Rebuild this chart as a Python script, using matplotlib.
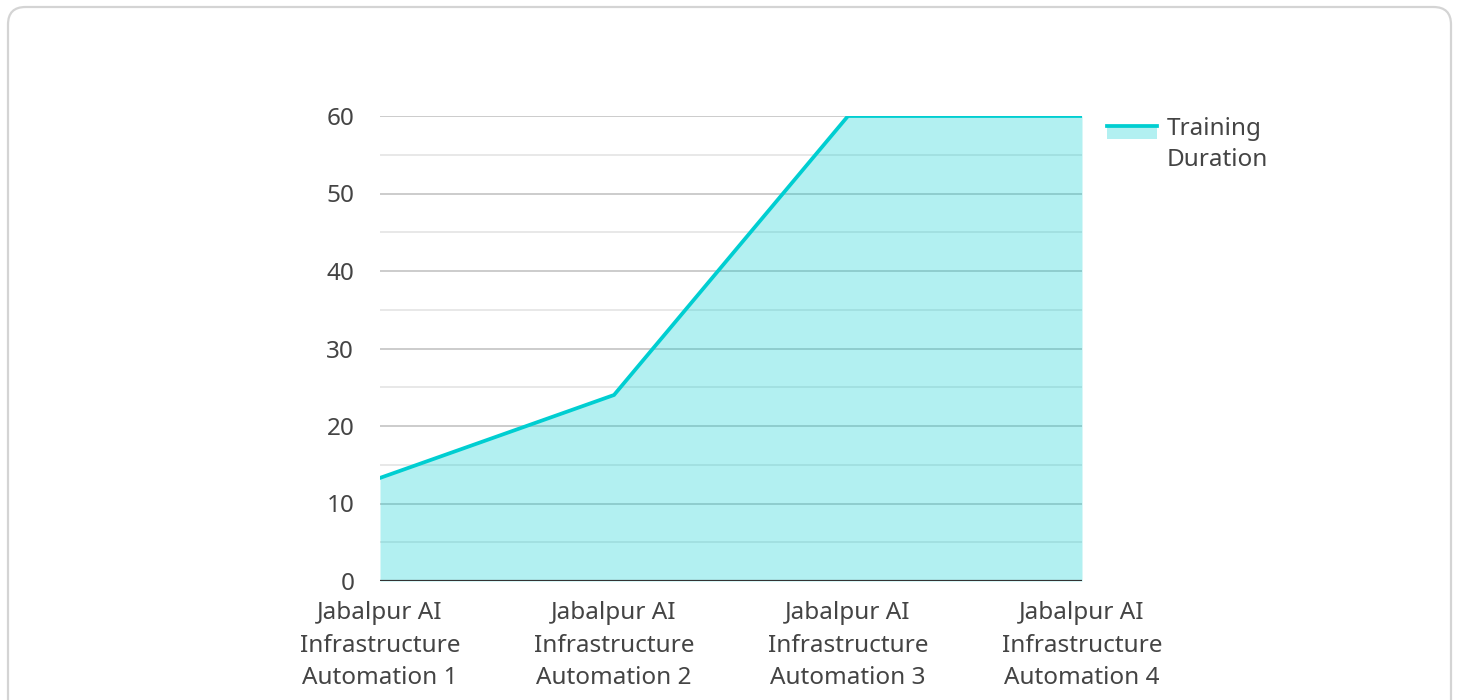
import matplotlib
matplotlib.use("Agg")
import matplotlib.pyplot as plt
from matplotlib.patches import FancyBboxPatch, Rectangle
from matplotlib.lines import Line2D
from matplotlib.legend_handler import HandlerBase

categories = ["Jabalpur AI\nInfrastructure\nAutomation 1",
              "Jabalpur AI\nInfrastructure\nAutomation 2",
              "Jabalpur AI\nInfrastructure\nAutomation 3",
              "Jabalpur AI\nInfrastructure\nAutomation 4"]
values = [13.3, 24, 60, 60]
series_name = "Training\nDuration"
y_ticks = [0, 10, 20, 30, 40, 50, 60]

LINE = "#00CED1"
TEXT = "#444444"
FS = 17.5

plt.rcParams['font.family'] = ['Noto Sans', 'DejaVu Sans']

W, H = 1458, 700
fig = plt.figure(figsize=(W / 100, H / 100), dpi=100)

# rounded border
fig.patches.append(FancyBboxPatch((8 / W, -20 / H), (1443 / W), (1 - 7 / H + 20 / H),
                                  boxstyle="round,pad=0,rounding_size=0.012",
                                  transform=fig.transFigure, facecolor="none",
                                  edgecolor="#d4d4d4", linewidth=1.6, zorder=-1,
                                  mutation_aspect=W / H))

ax = fig.add_axes([380 / W, 1 - 581 / H, (1082 - 380) / W, (581 - 116) / H])
ax.set_facecolor("none")
x = list(range(len(categories)))

ax.set_xlim(0, len(categories) - 1)
ax.set_ylim(0, 60)

# grid
for v in range(5, 61, 5):
    ax.axhline(v, color="#c8c8c8" if v % 10 == 0 else "#e6e6e6", lw=1.3, zorder=1)

ax.fill_between(x, values, 0, color=LINE, alpha=0.3, lw=0, zorder=2)
ax.plot(x, values, color=LINE, lw=2.7, zorder=3, solid_joinstyle="miter")
ax.axhline(0, color="#333333", lw=1.6, zorder=4)

for s in ax.spines.values():
    s.set_visible(False)

ax.set_yticks(y_ticks)
ax.set_yticklabels([str(t) for t in y_ticks])
ax.set_xticks(x)
ax.set_xticklabels(categories, linespacing=1.48)
ax.tick_params(axis="both", length=0, labelsize=FS, colors=TEXT)
ax.tick_params(axis="y", pad=18.5)
ax.tick_params(axis="x", pad=14.5)


class AreaHandler(HandlerBase):
    def create_artists(self, legend, orig_handle, xdescent, ydescent, width, height, fontsize, trans):
        top = -ydescent + 1.025 * height + 8
        h = 10
        rect = Rectangle((-xdescent, top - h), width, h, facecolor=LINE, alpha=0.3,
                         edgecolor="none", transform=trans)
        line = Line2D([-xdescent, -xdescent + width], [top, top],
                      color=LINE, lw=2.7, transform=trans)
        return [rect, line]


proxy = Rectangle((0, 0), 1, 1)
leg = fig.legend([proxy], [series_name], handler_map={Rectangle: AreaHandler()},
                 loc="upper left", bbox_to_anchor=(1107 / W, 1 - 117 / H),
                 frameon=False, fontsize=FS, handlelength=2.05, handleheight=0.65,
                 handletextpad=0.42, borderpad=0, borderaxespad=0)
for t in leg.get_texts():
    t.set_color(TEXT)
    t.set_linespacing(1.41)

fig.savefig("out.png", dpi=100)
